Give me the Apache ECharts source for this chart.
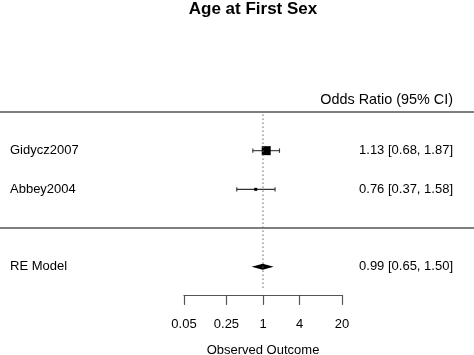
<!DOCTYPE html>
<html>
<head>
<meta charset="utf-8">
<script src="https://cdn.jsdelivr.net/npm/echarts@6/dist/echarts.min.js"></script>
<style>
html,body{margin:0;padding:0;background:#fff;}
#c{width:474px;height:355px;}
</style>
</head>
<body>
<div id="c"></div>
<script>
// ---- data ----
const titleText = 'Age at First Sex';
const studies = ['Gidycz2007', 'Abbey2004'];
const studyRows = [2, 1];
const estimates = [1.13, 0.76];
const lowers = [0.68, 0.37];
const uppers = [1.87, 1.58];
const weights = [15.0, 7.3];
const summaryLabel = 'RE Model';
const summaryRow = -1;
const summaryEst = 0.99;
const summaryLower = 0.65;
const summaryUpper = 1.50;
const tickValues = [0.05, 0.25, 1, 4, 20];
const tickLabels = ['0.05', '0.25', '1', '4', '20'];
const headerText = 'Odds Ratio (95% CI)';
const axisName = 'Observed Outcome';

// ---- layout ----
const FONT = 'Liberation Sans, Arial, Helvetica, sans-serif';
const AX_L = 184, AX_R = 342, W = 474;
const ROW_PX = 38.67, ROW0_Y = 228;
const Y_MIN = -1.73, Y_MAX = 3.4;
const gridTop = ROW0_Y - Y_MAX * ROW_PX;
const gridH = (Y_MAX - Y_MIN) * ROW_PX;
const fmt = v => v.toFixed(2);
const ciText = (e, l, u) => fmt(e) + ' [' + fmt(l) + ', ' + fmt(u) + ']';

const minW = Math.min(...weights), maxW = Math.max(...weights);
const sizeOf = w => 3 + (w - minW) / (maxW - minW) * 6;

const studyData = studies.map((s, i) => [Math.log(estimates[i]), Math.log(lowers[i]), Math.log(uppers[i]), studyRows[i], weights[i]]);
const summaryData = [[Math.log(summaryEst), Math.log(summaryLower), Math.log(summaryUpper), summaryRow]];

// text rows (grid 0)
const textRows = studies.map((s, i) => ({name: s, ci: ciText(estimates[i], lowers[i], uppers[i]), row: studyRows[i]}));
textRows.push({name: summaryLabel, ci: ciText(summaryEst, summaryLower, summaryUpper), row: summaryRow});

const chart = echarts.init(document.getElementById('c'), null, {renderer: 'canvas'});
const lineColor = '#555';

chart.setOption({
  animation: false,
  backgroundColor: '#fff',
  title: {
    text: titleText, left: 248, top: -4, textAlign: 'center',
    textStyle: {fontFamily: FONT, fontSize: 17, fontWeight: 'bold', color: '#000'}
  },
  grid: [
    {left: 0, right: 0, top: gridTop, height: gridH, containLabel: false, outerBoundsMode: 'none'},
    {left: AX_L, width: AX_R - AX_L, top: gridTop, height: gridH, containLabel: false, outerBoundsMode: 'none'}
  ],
  xAxis: [
    {gridIndex: 0, type: 'value', min: 0, max: 1, show: false},
    {
      gridIndex: 1, type: 'value',
      min: Math.log(tickValues[0]), max: Math.log(tickValues[tickValues.length - 1]),
      splitLine: {show: false},
      axisLine: {show: true, onZero: false, lineStyle: {color: lineColor, width: 1.2}},
      axisTick: {show: true, length: 10, inside: false, customValues: tickValues.map(Math.log), lineStyle: {color: lineColor, width: 1.2}},
      axisLabel: {
        show: true, margin: 23, customValues: tickValues.map(Math.log),
        showMinLabel: true, showMaxLabel: true,
        fontFamily: FONT, fontSize: 13, color: '#000',
        formatter: v => {
          let best = 0;
          tickValues.forEach((t, i) => { if (Math.abs(Math.log(t) - v) < Math.abs(Math.log(tickValues[best]) - v)) best = i; });
          return tickLabels[best];
        }
      },
      name: axisName, nameLocation: 'middle', nameGap: 49,
      nameTextStyle: {fontFamily: FONT, fontSize: 13, color: '#000', verticalAlign: 'top'}
    }
  ],
  yAxis: [
    {gridIndex: 0, type: 'value', min: Y_MIN, max: Y_MAX, show: false},
    {gridIndex: 1, type: 'value', min: Y_MIN, max: Y_MAX, show: false}
  ],
  series: [
    // separator lines
    {
      type: 'line', xAxisIndex: 0, yAxisIndex: 0, symbol: 'none', silent: true,
      data: [[0, 3], [1, 3]], lineStyle: {color: lineColor, width: 1.5}
    },
    {
      type: 'line', xAxisIndex: 0, yAxisIndex: 0, symbol: 'none', silent: true,
      data: [[0, 0], [1, 0]], lineStyle: {color: lineColor, width: 1.5}
    },
    // reference line at OR = 1
    {
      type: 'line', xAxisIndex: 1, yAxisIndex: 1, symbol: 'none', silent: true,
      data: [[0, Y_MIN + 0.18], [0, 3]], lineStyle: {color: '#666', width: 1, type: [1.5, 2.5]}
    },
    // text columns
    {
      type: 'custom', xAxisIndex: 0, yAxisIndex: 0, silent: true,
      data: textRows.map(r => [0, r.row]),
      renderItem: (params, api) => {
        const r = textRows[params.dataIndex];
        const y = api.coord([0, api.value(1)])[1];
        const cs = params.coordSys;
        return {type: 'group', children: [
          {type: 'text', style: {text: r.name, x: cs.x + 10, y: y, textAlign: 'left', textVerticalAlign: 'middle', fontFamily: FONT, fontSize: 13, fill: '#000'}},
          {type: 'text', style: {text: r.ci, x: cs.x + cs.width - 21, y: y, textAlign: 'right', textVerticalAlign: 'middle', fontFamily: FONT, fontSize: 13, fill: '#000'}}
        ]};
      }
    },
    // header
    {
      type: 'custom', xAxisIndex: 0, yAxisIndex: 0, silent: true,
      data: [[0, 3.31]],
      renderItem: (params, api) => {
        const y = api.coord([0, api.value(1)])[1];
        const cs = params.coordSys;
        return {type: 'text', style: {text: headerText, x: cs.x + cs.width - 21, y: y, textAlign: 'right', textVerticalAlign: 'middle', fontFamily: FONT, fontSize: 14.4, fill: '#000'}};
      }
    },
    // study CIs and squares
    {
      type: 'custom', xAxisIndex: 1, yAxisIndex: 1, silent: true,
      data: studyData,
      renderItem: (params, api) => {
        const row = api.value(3);
        const c = api.coord([api.value(0), row]);
        const lo = api.coord([api.value(1), row]);
        const hi = api.coord([api.value(2), row]);
        const s = sizeOf(api.value(4));
        const cap = 2.2;
        const ls = {stroke: '#333', lineWidth: 1.1};
        return {type: 'group', children: [
          {type: 'line', shape: {x1: lo[0], y1: c[1], x2: hi[0], y2: c[1]}, style: ls},
          {type: 'line', shape: {x1: lo[0], y1: c[1] - cap, x2: lo[0], y2: c[1] + cap}, style: ls},
          {type: 'line', shape: {x1: hi[0], y1: c[1] - cap, x2: hi[0], y2: c[1] + cap}, style: ls},
          {type: 'rect', shape: {x: c[0] - s / 2, y: c[1] - s / 2, width: s, height: s}, style: {fill: '#000'}}
        ]};
      }
    },
    // summary diamond
    {
      type: 'custom', xAxisIndex: 1, yAxisIndex: 1, silent: true,
      data: summaryData,
      renderItem: (params, api) => {
        const row = api.value(3);
        const c = api.coord([api.value(0), row]);
        const lo = api.coord([api.value(1), row]);
        const hi = api.coord([api.value(2), row]);
        const h = 3;
        return {type: 'polygon', shape: {points: [[lo[0], c[1]], [c[0], c[1] - h], [hi[0], c[1]], [c[0], c[1] + h]]}, style: {fill: '#000'}};
      }
    }
  ]
});
</script>
</body>
</html>
